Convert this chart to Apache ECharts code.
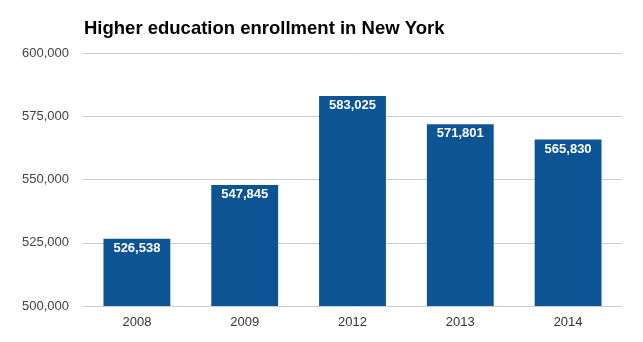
<!DOCTYPE html>
<html><head><meta charset="utf-8">
<script src="https://cdn.jsdelivr.net/npm/echarts@6/dist/echarts.min.js"></script>
<style>html,body{margin:0;padding:0;background:#fff}#c{width:643px;height:342px}</style>
</head><body><div id="c"></div>
<script>
const title = "Higher education enrollment in New York";
const categories = ["2008", "2009", "2012", "2013", "2014"];
const enrollment = [526538, 547845, 583025, 571801, 565830];

const chart = echarts.init(document.getElementById('c'), null, {renderer: 'canvas'});
chart.setOption({
  animation: false,
  title: {
    text: title, left: 79, top: 14,
    textStyle: {fontFamily: 'Liberation Sans, Arial', fontSize: 18.5, fontWeight: 'bold', color: '#000'}
  },
  grid: {left: 83, right: 21, top: 53, bottom: 36},
  xAxis: {
    type: 'category', data: categories,
    axisLine: {show: false}, axisTick: {show: false},
    axisLabel: {color: '#333', fontFamily: 'Liberation Sans, Arial', fontSize: 13, margin: 10}
  },
  yAxis: {
    type: 'value', min: 500000, max: 600000, interval: 25000,
    axisLine: {show: false}, axisTick: {show: false},
    splitLine: {lineStyle: {color: '#cccccc', width: 1}},
    axisLabel: {
      color: '#444', fontFamily: 'Liberation Sans, Arial', fontSize: 13, margin: 14,
      formatter: v => v.toLocaleString('en-US')
    }
  },
  series: [{
    type: 'bar', data: enrollment, barWidth: '62%',
    itemStyle: {color: '#0d5494'},
    label: {
      show: true, position: 'insideTop', distance: 3,
      color: '#fff', fontWeight: 'bold', fontSize: 13, fontFamily: 'Liberation Sans, Arial',
      formatter: p => p.value.toLocaleString('en-US')
    }
  }]
});
</script></body></html>
